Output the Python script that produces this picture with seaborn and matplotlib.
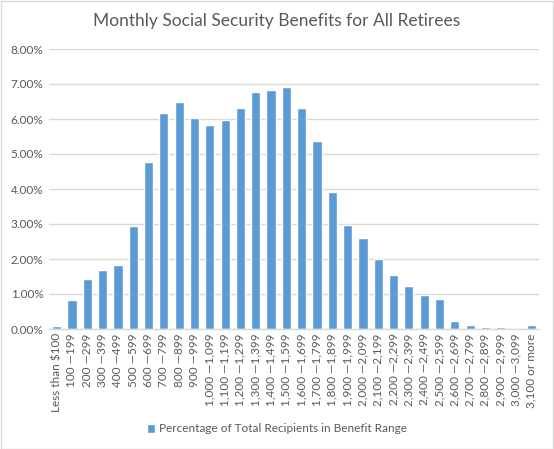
import matplotlib
matplotlib.use("Agg")
import matplotlib.pyplot as plt
import seaborn as sns
import pandas as pd
from matplotlib.ticker import FuncFormatter, MultipleLocator

categories = ["Less than $100", "100 —199", "200 —299", "300 —399", "400 —499",
              "500 —599", "600 —699", "700 —799", "800 —899", "900 —999",
              "1,000 —1,099", "1,100 —1,199", "1,200 —1,299", "1,300 —1,399",
              "1,400 —1,499", "1,500 —1,599", "1,600 —1,699", "1,700 —1,799",
              "1,800 —1,899", "1,900 —1,999", "2,000 —2,099", "2,100 —2,199",
              "2,200 —2,299", "2,300 —2,399", "2,400 —2,499", "2,500 —2,599",
              "2,600 —2,699", "2,700 —2,799", "2,800 —2,899", "2,900 —2,999",
              "3,000 —3,099", "3,100 or more"]
values = [0.10, 0.84, 1.44, 1.70, 1.84, 2.95, 4.78, 6.18, 6.50, 6.04,
          5.84, 5.98, 6.32, 6.78, 6.84, 6.92, 6.32, 5.38, 3.92, 2.98,
          2.61, 2.01, 1.55, 1.24, 0.98, 0.87, 0.24, 0.12, 0.07, 0.07,
          0.04, 0.12]
series_name = "Percentage of Total Recipients in Benefit Range"
title = "Monthly Social Security Benefits for All Retirees"

sns.set_theme(style="white")
plt.rcParams['font.family'] = ['Lato', 'DejaVu Sans']
text_color = "#595959"
bar_color = "#5B9BD5"
grid_color = "#D9D9D9"

df = pd.DataFrame({"range": categories, "pct": values})

fig = plt.figure(figsize=(5.54, 4.49), dpi=100)
ax = fig.add_axes([49/554, 1-329/449, 490/554, 280/449])
sns.barplot(data=df, x="range", y="pct", color=bar_color, width=0.6,
            saturation=1, ax=ax, label=series_name)

ax.set_ylim(0, 8)
ax.set_xlim(-0.5, len(categories) - 0.5)
ax.yaxis.set_major_locator(MultipleLocator(1))
ax.yaxis.set_major_formatter(FuncFormatter(lambda v, p: f"{v:.2f}%"))
ax.grid(axis="y", color=grid_color, linewidth=1)
ax.set_axisbelow(True)
for s in ["top", "right", "left"]:
    ax.spines[s].set_visible(False)
ax.spines["bottom"].set_color(grid_color)
ax.spines["bottom"].set_linewidth(1)
ax.tick_params(axis="both", length=0, colors=text_color, labelsize=8.5, pad=4)
ax.tick_params(axis="x", pad=3)
plt.setp(ax.get_xticklabels(), rotation=90)
ax.set_xlabel("")
ax.set_ylabel("")
if ax.get_legend() is not None:
    ax.get_legend().remove()

fig.text(0.5, 1 - 21/449, title, ha="center", va="center", fontsize=12.5,
         color=text_color)

handles, labels = ax.get_legend_handles_labels()
fig.legend(handles, labels, loc="center", bbox_to_anchor=(0.5, 1 - 429/449),
           frameon=False, fontsize=8.5, labelcolor=text_color,
           handlelength=0.7, handleheight=0.7, handletextpad=0.3)

border = plt.Rectangle((0.5/554, 0.5/449), 1 - 1.5/554, 1 - 1.5/449,
                       transform=fig.transFigure, fill=False,
                       edgecolor=grid_color, linewidth=1)
fig.patches.append(border)

fig.savefig("out.png", dpi=100)
